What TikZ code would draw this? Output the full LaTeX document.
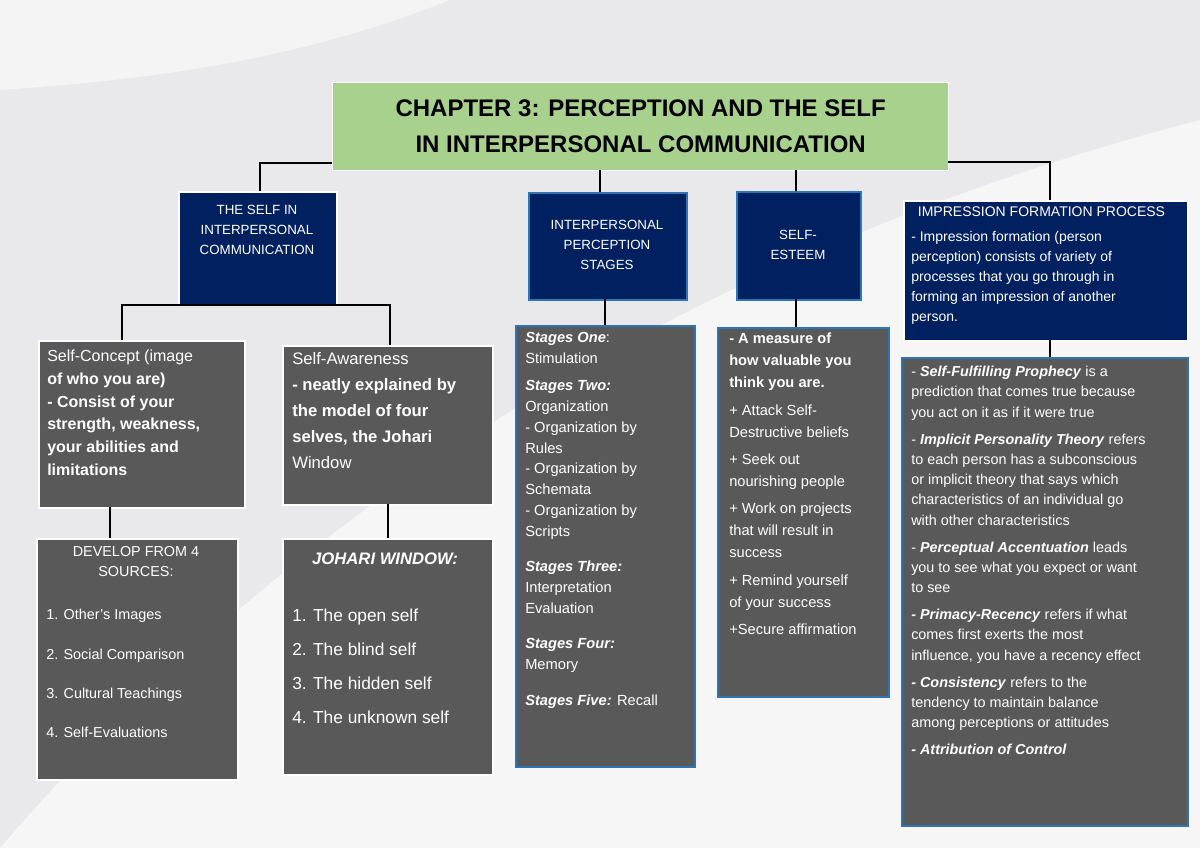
\documentclass[tikz,border=0pt]{standalone}
\usepackage{fontspec}
\setmainfont{Liberation Sans}
\begin{document}
\begin{tikzpicture}[x=0.75pt,y=-0.75pt,
  navy/.style={draw=#1,line width=1.5pt,fill=navyc},
  grayb/.style={draw=#1,line width=1.5pt,fill=grayc},
  wire/.style={draw=black,line width=2.2pt},
  txt/.style={anchor=north west,inner sep=0pt,align=left,text=white}]
\definecolor{navyc}{HTML}{002060}
\definecolor{grayc}{HTML}{595959}
\definecolor{greenc}{HTML}{A9D18E}
\definecolor{bluec}{HTML}{2E75B6}
\definecolor{bgc}{HTML}{E9E9EB}
\useasboundingbox (0,0) rectangle (1200,848);
\fill[bgc] (0,0) rectangle (1200,848);
\fill[white,opacity=0.6] (0,848) .. controls (300,500) and (700,250) .. (1200,120) -- (1200,848) -- cycle;
\fill[white,opacity=0.5] (0,0) -- (450,0) .. controls (300,60) and (150,80) .. (0,90) -- cycle;
% title
\node[draw=white,line width=1pt,fill=greenc,minimum width=462pt,minimum height=66pt,anchor=north west,align=center,font=\fontsize{18}{27}\selectfont\bfseries] (title) at (332,82) {CHAPTER 3: PERCEPTION AND THE SELF\\IN INTERPERSONAL COMMUNICATION};
% level 1
\node[navy=white,minimum width=118.5pt,minimum height=85pt,anchor=north west] (self) at (178,191) {};
\node[txt,anchor=north,align=center,font=\fontsize{10}{15}\selectfont] at (257,205) {THE SELF IN\\INTERPERSONAL\\COMMUNICATION};
\node[navy=bluec,minimum width=118.5pt,minimum height=80pt,anchor=north west] (ips) at (528,192) {};
\node[txt,anchor=north,align=center,font=\fontsize{10}{15}\selectfont] at (607,220) {INTERPERSONAL\\PERCEPTION\\STAGES};
\node[navy=bluec,minimum width=93pt,minimum height=81pt,anchor=north west] (se) at (736,191) {};
\node[txt,anchor=north,align=center,font=\fontsize{10}{15}\selectfont] at (798,230) {SELF-\\ESTEEM};
\node[navy=white,minimum width=213pt,minimum height=105pt,anchor=north west] (imp) at (903,200) {};
\node[txt,font=\fontsize{10.5}{15}\selectfont] at (911,206) {\hspace*{5pt}IMPRESSION FORMATION PROCESS\\[4pt]- Impression formation (person\\perception) consists of variety of\\processes that you go through in\\forming an impression of another\\person.};
% level 2
\node[grayb=white,minimum width=154.5pt,minimum height=125pt,anchor=north west] (sc) at (38,340) {};
\node[txt,font=\fontsize{12}{17}\selectfont\bfseries] at (47,350) {\mdseries Self-Concept (image\\of who you are)\\- Consist of your\\strength, weakness,\\your abilities and\\limitations};
\node[grayb=white,minimum width=157.5pt,minimum height=119pt,anchor=north west] (sa) at (282,345) {};
\node[txt,font=\fontsize{12.5}{19.5}\selectfont] at (292,352) {Self-Awareness\\\bfseries - neatly explained by\\\bfseries the model of four\\\bfseries selves, the Johari\\\mdseries Window};
\node[grayb=white,minimum width=150.5pt,minimum height=181pt,anchor=north west] (dev) at (36,538) {};
\node[txt,anchor=north,align=center,font=\fontsize{10.8}{15.5}\selectfont] at (136,546) {DEVELOP FROM 4\\SOURCES:};
\node[txt,font=\fontsize{10.8}{29.5}\selectfont] at (46,609) {1. Other's Images\\2. Social Comparison\\3. Cultural Teachings\\4. Self-Evaluations};
\node[grayb=white,minimum width=157.5pt,minimum height=177pt,anchor=north west] (jo) at (282,538) {};
\node[txt,anchor=north,font=\fontsize{12.5}{17}\selectfont\bfseries\itshape] at (385,553) {JOHARI WINDOW:};
\node[txt,font=\fontsize{13}{25.5}\selectfont] at (292,609) {1. The open self\\2. The blind self\\3. The hidden self\\4. The unknown self};
\node[grayb=bluec,minimum width=134pt,minimum height=331pt,anchor=north west] (st) at (515,325) {};
\node[txt,font=\fontsize{11}{15.6}\selectfont] at (525,332) {\textbf{\textit{Stages One}}:\\Stimulation\\[5pt]\textbf{\textit{Stages Two:}}\\Organization\\- Organization by\\Rules\\- Organization by\\Schemata\\- Organization by\\Scripts\\[11pt]\textbf{\textit{Stages Three:}}\\Interpretation\\Evaluation\\[11pt]\textbf{\textit{Stages Four:}}\\Memory\\[11pt]\textbf{\textit{Stages Five:}} Recall};
\node[grayb=bluec,minimum width=128pt,minimum height=277pt,anchor=north west] (sec) at (717,327) {};
\node[txt,font=\fontsize{11}{16.5}\selectfont] at (729,333) {\textbf{- A measure of}\\\textbf{how valuable you}\\\textbf{think you are.}\\[4pt]+ Attack Self-\\Destructive beliefs\\[4pt]+ Seek out\\nourishing people\\[4pt]+ Work on projects\\that will result in\\success\\[4pt]+ Remind yourself\\of your success\\[4pt]+Secure affirmation};
\node[grayb=bluec,minimum width=214.5pt,minimum height=351pt,anchor=north west] (ic) at (901,357) {};
\node[txt,font=\fontsize{10.8}{15.2}\selectfont] at (911,366) {- \textbf{\textit{Self-Fulfilling Prophecy}} is a\\prediction that comes true because\\you act on it as if it were true\\[5pt]- \textbf{\textit{Implicit Personality Theory}} refers\\to each person has a subconscious\\or implicit theory that says which\\characteristics of an individual go\\with other characteristics\\[5pt]- \textbf{\textit{Perceptual Accentuation}} leads\\you to see what you expect or want\\to see\\[5pt]\textbf{\textit{- Primacy-Recency}} refers if what\\comes first exerts the most\\influence, you have a recency effect\\[5pt]\textbf{\textit{- Consistency}} refers to the\\tendency to maintain balance\\among perceptions or attitudes\\[5pt]\textbf{\textit{- Attribution of Control}}};
% connectors
\draw[wire] (332,163) -- (260,163) -- (260,191);
\draw[wire] (948,162) -- (1050,162) -- (1050,200);
\draw[wire] (600,170) -- (600,192);
\draw[wire] (796,170) -- (796,191);
\draw[wire] (257,304) -- (257,305);
\draw[wire] (122,340) -- (122,305) -- (390,305) -- (390,345);
\draw[wire] (110,507) -- (110,538);
\draw[wire] (388,504) -- (388,538);
\draw[wire] (605,299) -- (605,325);
\draw[wire] (796,299) -- (796,327);
\draw[wire] (1050,340) -- (1050,357);
\end{tikzpicture}
\end{document}
